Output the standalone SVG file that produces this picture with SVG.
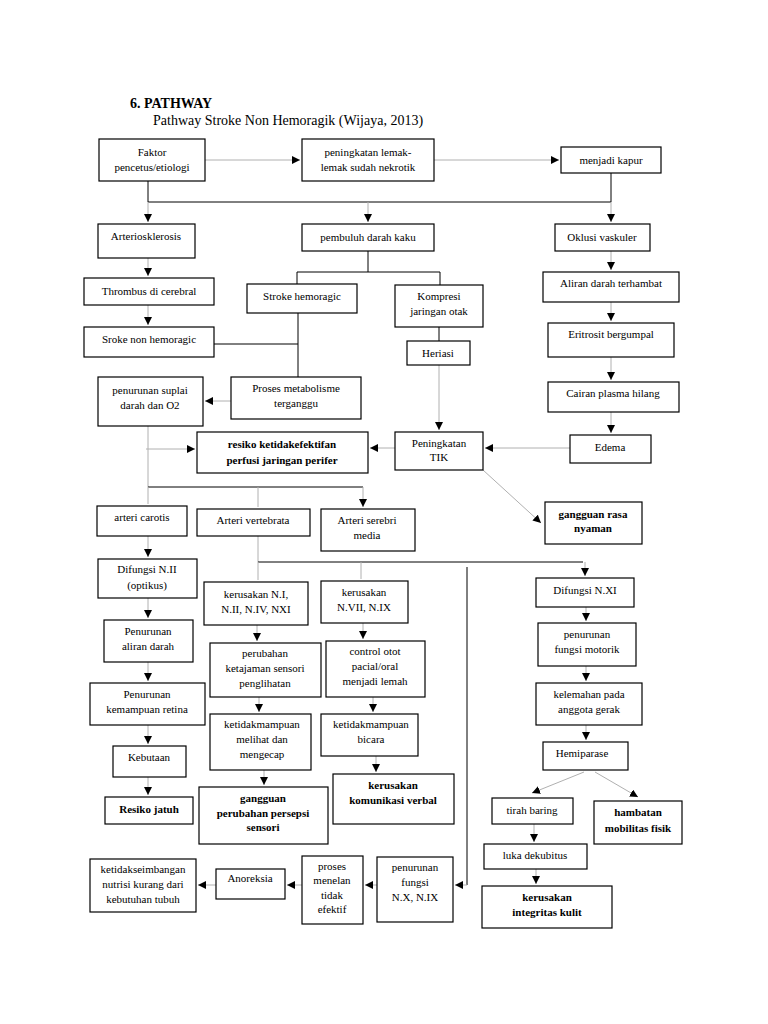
<svg xmlns="http://www.w3.org/2000/svg" width="768" height="1024" viewBox="0 0 768 1024">
<style>
.b rect{fill:#fff;stroke:#000;stroke-width:1.2}
text{font-family:"Liberation Serif",serif;font-size:11px;fill:#000;text-anchor:middle}
.bd{font-weight:bold}
.g{stroke:#b0b0b0;stroke-width:1;fill:none}
.k{stroke:#000;stroke-width:1;fill:none}
</style>
<defs><marker id="a" viewBox="0 0 8 8" refX="8" refY="4" markerWidth="8" markerHeight="8" orient="auto" markerUnits="userSpaceOnUse"><path d="M0,0L8,4L0,8z" fill="#000"/></marker></defs>
<text x="130" y="108" style="font-size:14px;font-weight:bold;text-anchor:start">6.  PATHWAY</text>
<text x="153" y="125" style="font-size:14px;text-anchor:start">Pathway Stroke Non Hemoragik (Wijaya, 2013)</text>
<g id="connectors">
<path class="g" d="M205,160H300" marker-end="url(#a)"/>
<path class="g" d="M434,160H559" marker-end="url(#a)"/>
<path class="k" d="M148,181V202H611V173"/>
<path class="g" d="M148,202V222" marker-end="url(#a)"/>
<path class="g" d="M368,202V222" marker-end="url(#a)"/>
<path class="g" d="M611,202V222" marker-end="url(#a)"/>
<path class="g" d="M148,258V276" marker-end="url(#a)"/>
<path class="g" d="M148,305V325" marker-end="url(#a)"/>
<path class="k" d="M368,251V272M297,284V272H440V285"/>
<path class="k" d="M439,327V341"/>
<path class="k" d="M298,313V377M214,344H298"/>
<path class="g" d="M231,401H205" marker-end="url(#a)"/>
<path class="g" d="M611,251V270" marker-end="url(#a)"/>
<path class="g" d="M611,302V321" marker-end="url(#a)"/>
<path class="g" d="M611,357V380" marker-end="url(#a)"/>
<path class="g" d="M611,412V433" marker-end="url(#a)"/>
<path class="g" d="M439,365V430" marker-end="url(#a)"/>
<path class="g" d="M570,448H485" marker-end="url(#a)"/>
<path class="g" d="M395,448H370" marker-end="url(#a)"/>
<path class="g" d="M146,449H195" marker-end="url(#a)"/>
<path class="g" d="M148,426V487"/>
<path class="k" d="M148,487H363"/>
<path class="g" d="M148,487V504M258,487V507M363,487V507" marker-end="url(#a)"/>
<path class="g" d="M483,470L541,523" marker-end="url(#a)"/>
<path class="g" d="M148,536V557" marker-end="url(#a)"/>
<path class="g" d="M258,536V562"/>
<path class="k" d="M258,562H583"/>
<path class="g" d="M258,562V580M361,562V579M585,562V576" marker-end="url(#a)"/>
<path class="k" d="M467,567V885"/>
<path class="g" d="M467,885H455" marker-end="url(#a)"/>
<path class="g" d="M148,598V618" marker-end="url(#a)"/>
<path class="g" d="M148,662V681" marker-end="url(#a)"/>
<path class="g" d="M148,725V744" marker-end="url(#a)"/>
<path class="g" d="M148,777V795" marker-end="url(#a)"/>
<path class="g" d="M257,625V641" marker-end="url(#a)"/>
<path class="g" d="M259,697V712" marker-end="url(#a)"/>
<path class="g" d="M264,770V785" marker-end="url(#a)"/>
<path class="g" d="M363,623V639" marker-end="url(#a)"/>
<path class="g" d="M373,697V712" marker-end="url(#a)"/>
<path class="g" d="M376,756V772" marker-end="url(#a)"/>
<path class="g" d="M586,607V621" marker-end="url(#a)"/>
<path class="g" d="M586,666V681" marker-end="url(#a)"/>
<path class="g" d="M586,725V740" marker-end="url(#a)"/>
<path class="g" d="M584,772L532,793" marker-end="url(#a)"/>
<path class="g" d="M595,772L638,797" marker-end="url(#a)"/>
<path class="g" d="M534,824V842" marker-end="url(#a)"/>
<path class="g" d="M536,869V884" marker-end="url(#a)"/>
<path class="g" d="M377,885H365" marker-end="url(#a)"/>
<path class="g" d="M302,885H287" marker-end="url(#a)"/>
<path class="g" d="M216,885H198" marker-end="url(#a)"/>
</g>
<g class="b">
<g id="n1"><rect x="99" y="139" width="106" height="42"/><text x="152" y="156">Faktor</text><text x="152" y="171">pencetus/etiologi</text></g>
<g id="n2"><rect x="302" y="139" width="132" height="42"/><text x="368" y="156">peningkatan lemak-</text><text x="368" y="171">lemak sudah nekrotik</text></g>
<g id="n3"><rect x="561" y="147" width="100" height="26"/><text x="611" y="164">menjadi kapur</text></g>
<g id="n4"><rect x="98" y="224" width="97" height="34"/><text x="146" y="240">Arteriosklerosis</text></g>
<g id="n5"><rect x="302" y="224" width="132" height="27"/><text x="368" y="241">pembuluh darah kaku</text></g>
<g id="n6"><rect x="555" y="224" width="95" height="27"/><text x="602" y="241">Oklusi vaskuler</text></g>
<g id="n7"><rect x="84" y="278" width="130" height="27"/><text x="149" y="295">Thrombus di cerebral</text></g>
<g id="n8"><rect x="247" y="284" width="110" height="29"/><text x="302" y="300">Stroke hemoragic</text></g>
<g id="n9"><rect x="395" y="285" width="88" height="42"/><text x="439" y="300">Kompresi</text><text x="439" y="315">jaringan otak</text></g>
<g id="n10"><rect x="543" y="272" width="136" height="30"/><text x="611" y="287">Aliran darah terhambat</text></g>
<g id="n11"><rect x="84" y="327" width="130" height="30"/><text x="149" y="343">Sroke non hemoragic</text></g>
<g id="n12"><rect x="548" y="323" width="126" height="34"/><text x="611" y="338">Eritrosit bergumpal</text></g>
<g id="n13"><rect x="407" y="341" width="63" height="24"/><text x="438" y="357">Heriasi</text></g>
<g id="n14"><rect x="98" y="377" width="105" height="49"/><text x="150" y="394">penurunan suplai</text><text x="150" y="409">darah dan O2</text></g>
<g id="n15"><rect x="231" y="377" width="130" height="42"/><text x="296" y="392">Proses metabolisme</text><text x="296" y="407">terganggu</text></g>
<g id="n16"><rect x="548" y="382" width="131" height="30"/><text x="613" y="397">Cairan plasma hilang</text></g>
<g id="n17"><rect x="197" y="432" width="171" height="41"/><text class="bd" x="282" y="448">resiko ketidakefektifan</text><text class="bd" x="282" y="464">perfusi jaringan perifer</text></g>
<g id="n18"><rect x="395" y="432" width="88" height="38"/><text x="439" y="447">Peningkatan</text><text x="439" y="461">TIK</text></g>
<g id="n19"><rect x="570" y="435" width="81" height="28"/><text x="610" y="451">Edema</text></g>
<g id="n20"><rect x="97" y="506" width="90" height="30"/><text x="142" y="521">arteri carotis</text></g>
<g id="n21"><rect x="197" y="509" width="113" height="27"/><text x="253" y="524">Arteri vertebrata</text></g>
<g id="n22"><rect x="321" y="509" width="94" height="42"/><text x="367" y="524">Arteri serebri</text><text x="367" y="539">media</text></g>
<g id="n23"><rect x="545" y="502" width="97" height="42"/><text class="bd" x="593" y="518">gangguan rasa</text><text class="bd" x="593" y="532">nyaman</text></g>
<g id="n24"><rect x="98" y="559" width="99" height="39"/><text x="147" y="573">Difungsi N.II</text><text x="147" y="589">(optikus)</text></g>
<g id="n25"><rect x="204" y="582" width="104" height="43"/><text x="256" y="598">kerusakan N.I,</text><text x="256" y="613">N.II, N.IV, NXI</text></g>
<g id="n26"><rect x="321" y="581" width="87" height="42"/><text x="364" y="596">kerusakan</text><text x="364" y="611">N.VII, N.IX</text></g>
<g id="n27"><rect x="536" y="578" width="98" height="29"/><text x="585" y="594">Difungsi N.XI</text></g>
<g id="n28"><rect x="104" y="620" width="89" height="42"/><text x="148" y="635">Penurunan</text><text x="148" y="650">aliran darah</text></g>
<g id="n29"><rect x="210" y="643" width="111" height="54"/><text x="265" y="657">perubahan</text><text x="265" y="672">ketajaman sensori</text><text x="265" y="687">penglihatan</text></g>
<g id="n30"><rect x="326" y="641" width="99" height="56"/><text x="375" y="655">control otot</text><text x="375" y="670">pacial/oral</text><text x="375" y="685">menjadi lemah</text></g>
<g id="n31"><rect x="538" y="623" width="98" height="43"/><text x="587" y="638">penurunan</text><text x="587" y="653">fungsi motorik</text></g>
<g id="n32"><rect x="90" y="683" width="115" height="42"/><text x="147" y="698">Penurunan</text><text x="147" y="713">kemampuan retina</text></g>
<g id="n33"><rect x="536" y="683" width="106" height="42"/><text x="589" y="698">kelemahan pada</text><text x="589" y="713">anggota gerak</text></g>
<g id="n34"><rect x="210" y="714" width="101" height="56"/><text x="262" y="728">ketidakmampuan</text><text x="262" y="743">melihat dan</text><text x="262" y="758">mengecap</text></g>
<g id="n35"><rect x="321" y="714" width="97" height="42"/><text x="371" y="728">ketidakmampuan</text><text x="371" y="743">bicara</text></g>
<g id="n36"><rect x="543" y="742" width="85" height="28"/><text x="582" y="757">Hemiparase</text></g>
<g id="n37"><rect x="113" y="746" width="73" height="31"/><text x="149" y="761">Kebutaan</text></g>
<g id="n38"><rect x="199" y="787" width="129" height="57"/><text class="bd" x="263" y="802">gangguan</text><text class="bd" x="263" y="817">perubahan persepsi</text><text class="bd" x="263" y="831">sensori</text></g>
<g id="n39"><rect x="333" y="774" width="121" height="50"/><text class="bd" x="393" y="789">kerusakan</text><text class="bd" x="393" y="804">komunikasi verbal</text></g>
<g id="n40"><rect x="492" y="798" width="81" height="26"/><text x="532" y="814">tirah baring</text></g>
<g id="n41"><rect x="594" y="801" width="88" height="43"/><text class="bd" x="638" y="816">hambatan</text><text class="bd" x="638" y="832">mobilitas fisik</text></g>
<g id="n42"><rect x="105" y="797" width="88" height="27"/><text class="bd" x="149" y="813">Resiko jatuh</text></g>
<g id="n43"><rect x="484" y="844" width="103" height="25"/><text x="535" y="859">luka dekubitus</text></g>
<g id="n44"><rect x="482" y="886" width="130" height="42"/><text class="bd" x="547" y="901">kerusakan</text><text class="bd" x="547" y="916">integritas kulit</text></g>
<g id="n45"><rect x="90" y="859" width="106" height="53"/><text x="143" y="873">ketidakseimbangan</text><text x="143" y="888">nutrisi kurang dari</text><text x="143" y="903">kebutuhan tubuh</text></g>
<g id="n46"><rect x="216" y="869" width="69" height="30"/><text x="250" y="882">Anoreksia</text></g>
<g id="n47"><rect x="302" y="856" width="61" height="68"/><text x="332" y="870">proses</text><text x="332" y="884">menelan</text><text x="332" y="899">tidak</text><text x="332" y="913">efektif</text></g>
<g id="n48"><rect x="377" y="857" width="76" height="65"/><text x="415" y="871">penurunan</text><text x="415" y="886">fungsi</text><text x="415" y="901">N.X, N.IX</text></g>
</g>
</svg>
